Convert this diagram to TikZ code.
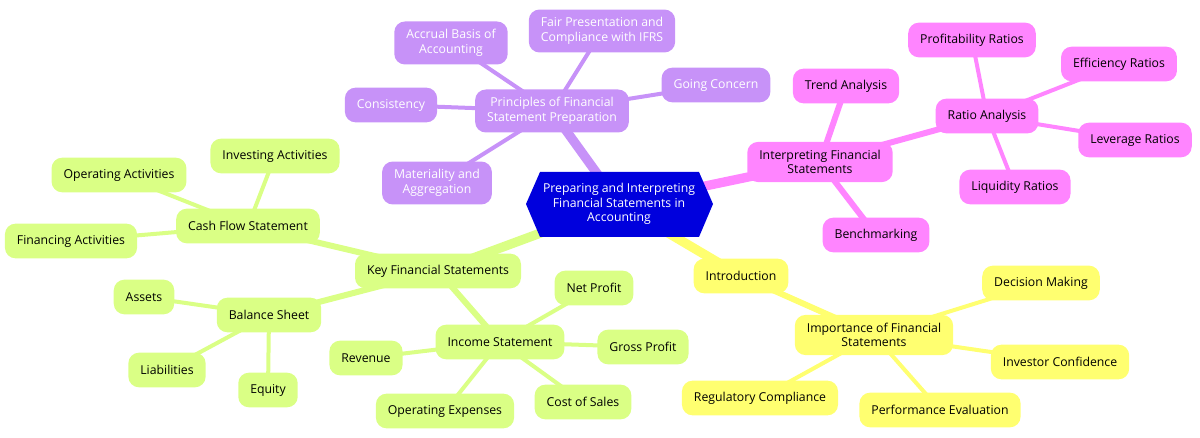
\documentclass[tikz,border=0pt]{standalone}
\usepackage{fontspec}
\setmainfont{Open Sans}
\usetikzlibrary{backgrounds}
\definecolor{pur}{HTML}{C792F8}
\definecolor{pnk}{HTML}{FF85FF}
\definecolor{yel}{HTML}{FFFF70}
\definecolor{grn}{HTML}{DAFF85}
\definecolor{rootc}{HTML}{0000DD}
\begin{document}
\begin{tikzpicture}[x=0.75pt,y=-0.75pt,
  box/.style={rounded corners=8pt,inner xsep=9pt,inner ysep=6pt,font=\fontsize{9.2}{11}\selectfont,align=center,minimum height=26pt},
  P/.style={box,fill=pur,text=white},
  K/.style={box,fill=pnk,text=black},
  Y/.style={box,fill=yel,text=black},
  G/.style={box,fill=grn,text=black},
  e1/.style={line width=7pt},
  e2/.style={line width=4.5pt},
  e3/.style={line width=3pt}]
\useasboundingbox (0,0) rectangle (1200,438);
\fill[rootc] (526,204)--(540,172)--(699,172)--(713,204)--(699,237)--(540,237)--cycle;
\node[text=white,align=center,font=\fontsize{9.2}{11}\selectfont] (root) at (619,204) {Preparing and Interpreting\\Financial Statements in\\Accounting};
% purple
\node[P] (pr) at (552,111) {Principles of Financial\\Statement Preparation};
\node[P] (ac) at (451,43) {Accrual Basis of\\Accounting};
\node[P] (fp) at (602,31) {Fair Presentation and\\Compliance with IFRS};
\node[P] (gc) at (716,85) {Going Concern};
\node[P] (co) at (391,105) {Consistency};
\node[P] (ma) at (437,183) {Materiality and\\Aggregation};
% pink
\node[K] (in) at (820,162) {Interpreting Financial\\Statements};
\node[K] (tr) at (846,86) {Trend Analysis};
\node[K] (ra) at (987,116) {Ratio Analysis};
\node[K] (pf) at (972,40) {Profitability Ratios};
\node[K] (ef) at (1119,64) {Efficiency Ratios};
\node[K] (le) at (1135,140) {Leverage Ratios};
\node[K] (li) at (1015,187) {Liquidity Ratios};
\node[K] (be) at (876,235) {Benchmarking};
% yellow
\node[Y] (intro) at (741,276) {Introduction};
\node[Y] (im) at (874,335) {Importance of Financial\\Statements};
\node[Y] (dm) at (1041,283) {Decision Making};
\node[Y] (ic) at (1060,362) {Investor Confidence};
\node[Y] (pe) at (940,410) {Performance Evaluation};
\node[Y] (rc) at (760,398) {Regulatory Compliance};
% green
\node[G] (kf) at (438,271) {Key Financial Statements};
\node[G] (cf) at (248,226) {Cash Flow Statement};
\node[G] (ia) at (275,156) {Investing Activities};
\node[G] (oa) at (119,175) {Operating Activities};
\node[G] (fa) at (71,241) {Financing Activities};
\node[G] (bs) at (269,315) {Balance Sheet};
\node[G] (as) at (144,297) {Assets};
\node[G] (lb) at (167,370) {Liabilities};
\node[G] (eq) at (268,390) {Equity};
\node[G] (is) at (500,342) {Income Statement};
\node[G] (np) at (594,288) {Net Profit};
\node[G] (gp) at (643,347) {Gross Profit};
\node[G] (rv) at (366,358) {Revenue};
\node[G] (ox) at (445,411) {Operating Expenses};
\node[G] (cs) at (583,402) {Cost of Sales};
\begin{scope}[on background layer]
\draw[pur,e1] (root.center)--(pr.center);
\foreach \n in {ac,fp,gc,co,ma} \draw[pur,e3] (pr.center)--(\n.center);
\draw[pnk,e1] (root.center)--(in.center);
\draw[pnk,e2] (in.center)--(tr.center);
\draw[pnk,e2] (in.center)--(ra.center);
\draw[pnk,e2] (in.center)--(be.center);
\foreach \n in {pf,ef,le,li} \draw[pnk,e3] (ra.center)--(\n.center);
\draw[yel,e1] (root.center)--(intro.center);
\draw[yel,e2] (intro.center)--(im.center);
\foreach \n in {dm,ic,pe,rc} \draw[yel,e3] (im.center)--(\n.center);
\draw[grn,e1] (root.center)--(kf.center);
\foreach \n in {cf,bs,is} \draw[grn,e2] (kf.center)--(\n.center);
\foreach \n in {ia,oa,fa} \draw[grn,e3] (cf.center)--(\n.center);
\foreach \n in {as,lb,eq} \draw[grn,e3] (bs.center)--(\n.center);
\foreach \n in {np,gp,rv,ox,cs} \draw[grn,e3] (is.center)--(\n.center);
\end{scope}
\end{tikzpicture}
\end{document}
